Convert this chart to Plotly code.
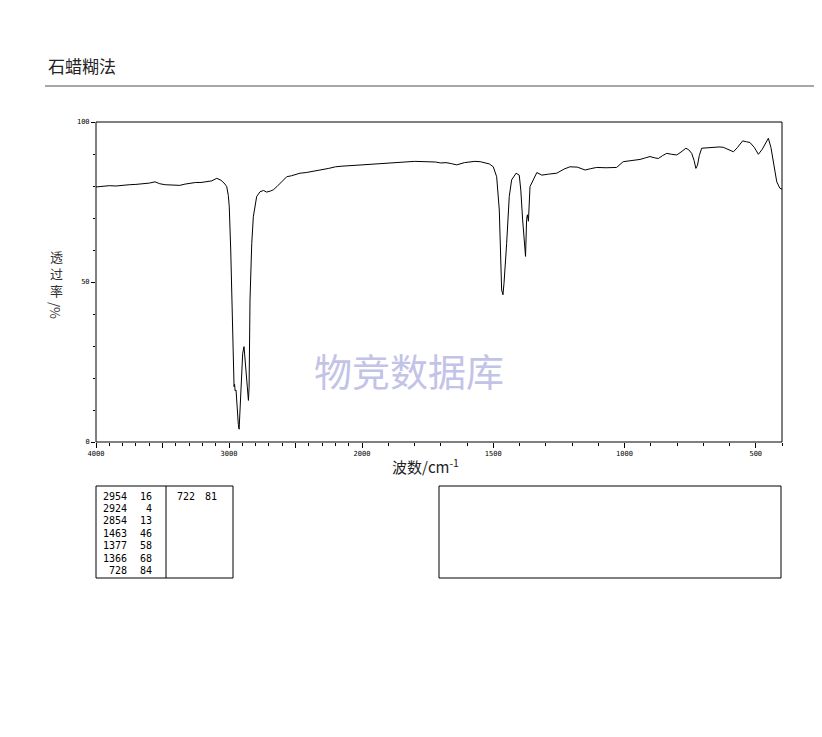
import plotly.graph_objects as go

# ---- data ----
wavenumber = [4000, 3950, 3900, 3850, 3800, 3750, 3700, 3650, 3600, 3556, 3520, 3480, 3440, 3400,
              3370, 3330, 3290, 3250, 3210, 3170, 3130, 3092, 3060, 3030, 3017, 3005, 2998, 2987,
              2980, 2972, 2962, 2958, 2954, 2947, 2938, 2930, 2924, 2917, 2907, 2897, 2887, 2877,
              2867, 2858, 2854, 2849, 2845, 2842, 2829, 2817, 2792, 2767, 2740, 2717, 2690, 2667,
              2640, 2610, 2580, 2566, 2530, 2500, 2466, 2420, 2380, 2316, 2250, 2200, 2150, 2100,
              2050, 2000,
              1950, 1900, 1855, 1800, 1760, 1720, 1700, 1680, 1660, 1639, 1610, 1589, 1570, 1550,
              1530, 1515, 1500, 1487, 1477, 1472, 1468, 1463, 1459, 1449, 1439, 1430, 1413, 1401,
              1395, 1388, 1382, 1377, 1373, 1370, 1366, 1360, 1334, 1315, 1290, 1258, 1230, 1208,
              1180, 1150, 1130, 1106, 1070, 1050, 1030, 1005, 970, 941, 920, 903, 885, 871, 855,
              839, 820, 801, 785, 766, 755, 744, 735, 728, 722, 715, 706, 690, 662, 640, 624, 605,
              585, 570, 550, 535, 522, 505, 490, 475, 460, 452, 442, 433, 420, 408, 400]
transmittance = [79.7, 79.9, 80.1, 80.0, 80.3, 80.4, 80.5, 80.6, 80.9, 81.3, 80.7, 80.4, 80.4, 80.3,
                 80.2, 80.6, 80.9, 81.1, 81.1, 81.4, 81.6, 82.4, 81.8, 80.6, 79.8, 77.0, 73.5, 60.0,
                 45.4, 27.8, 17.3, 18.0, 16.0, 16.2, 9.0, 5.5, 4.0, 10.0, 20.4, 27.7, 29.8, 24.7,
                 18.4, 15.0, 13.0, 17.0, 30.0, 44.4, 62.0, 70.4, 76.7, 78.2, 78.6, 78.1, 78.4, 78.8,
                 79.8, 81.0, 82.3, 82.9, 83.2, 83.6, 84.0, 84.2, 84.6, 85.0, 85.5, 86.0, 86.2, 86.3,
                 86.4, 86.6,
                 86.9, 87.2, 87.4, 87.7, 87.6, 87.5, 87.2, 87.3, 87.0, 86.6, 87.3, 87.6, 87.7, 87.6,
                 87.2, 86.9, 86.0, 82.9, 72.5, 56.9, 47.5, 46.0, 49.6, 62.0, 76.7, 81.9, 84.0, 83.4,
                 78.7, 69.4, 62.0, 58.0, 69.5, 71.0, 69.0, 79.8, 84.2, 83.4, 83.7, 84.0, 85.3, 86.0,
                 85.9, 85.0, 85.4, 85.8, 85.7, 85.8, 85.8, 87.6, 87.9, 88.3, 88.8, 89.2, 88.8, 88.6, 89.5,
                 90.2, 89.9, 89.7, 90.6, 91.8, 91.3, 90.2, 88.0, 85.5, 86.5, 89.5, 91.8, 91.9, 92.1, 92.2,
                 92.1, 91.3, 90.7, 92.0, 94.1, 93.8, 93.6, 92.0, 89.9, 91.5, 94.0, 94.9, 92.0, 88.1,
                 81.3, 79.3, 79.0]

peak_wn = [2954, 2924, 2854, 1463, 1377, 1366, 728, 722]
peak_t = [16, 4, 13, 46, 58, 68, 84, 81]

x_ticks_left = [4000, 3000]
x_ticktext_left = ["4000", "3000"]
x_ticks_mid = [3500, 2500]
x_ticks_right = [2000, 1500, 1000, 500]
x_ticktext_right = ["2000", "1500", "1000", "500"]
y_ticks = [0, 50, 100]
y_ticktext = ["0", "50", "100"]

title_text = "石蜡糊法"
xlabel = "波数/cm<sup>-1</sup>"
ylabel_chars = "透<br>过<br>率"
ylabel_unit = "/%"
watermark = "物竞数据库"

# ---- geometry (reference pixels; page has an 8px body margin) ----
OFF = 8
W, H = 822 - OFF, 737 - OFF
L, R, T, B = 96, 782, 122, 442
PW, PH = R - L, B - T
split = (362 - L) / PW


def px(x):
    return (x - L) / PW


def py(y):
    return (B - y) / PH


left_x = [w for w in wavenumber if w >= 2000]
left_y = [t for w, t in zip(wavenumber, transmittance) if w >= 2000]
right_x = [w for w in wavenumber if w <= 2000]
right_y = [t for w, t in zip(wavenumber, transmittance) if w <= 2000]

line = dict(color="black", width=1)
fig = go.Figure()
fig.add_trace(go.Scatter(x=left_x, y=left_y, mode="lines", line=line, xaxis="x", yaxis="y",
                         showlegend=False, hoverinfo="skip"))
fig.add_trace(go.Scatter(x=right_x, y=right_y, mode="lines", line=line, xaxis="x2", yaxis="y",
                         showlegend=False, hoverinfo="skip"))

tickfont = dict(family="DejaVu Sans Mono", size=7, color="black")
minor_x = dict(ticks="outside", ticklen=3, tickcolor="black", tickmode="linear", tick0=0, dtick=100)

fig.update_layout(
    width=W, height=H,
    margin=dict(l=L - OFF, r=W - (R - OFF), t=T - OFF, b=H - (B - OFF)),
    paper_bgcolor="white", plot_bgcolor="white",
    xaxis=dict(domain=[0, split], range=[4000, 2000], tickmode="array", tickvals=x_ticks_left,
               ticktext=x_ticktext_left, ticks="outside", ticklen=5, tickcolor="black",
               showgrid=False, zeroline=False, showline=False, tickfont=tickfont,
               minor=minor_x, anchor="y"),
    xaxis3=dict(domain=[0, split], range=[4000, 2000], tickmode="array", tickvals=x_ticks_mid,
                ticks="outside", ticklen=5, tickcolor="black", showticklabels=False,
                showgrid=False, zeroline=False, showline=False, overlaying="x", anchor="y"),
    xaxis2=dict(domain=[split, 1], range=[2000, 400], tickmode="array", tickvals=x_ticks_right,
                ticktext=x_ticktext_right, ticks="outside", ticklen=5, tickcolor="black",
                showgrid=False, zeroline=False, showline=False, tickfont=tickfont,
                minor=minor_x, anchor="y"),
    yaxis=dict(range=[0, 100], tickmode="array", tickvals=y_ticks, ticktext=y_ticktext,
               ticks="outside", ticklen=4, tickcolor="black", showgrid=False, zeroline=False,
               showline=False, tickfont=tickfont, anchor="x",
               minor=dict(ticks="outside", ticklen=2, tickcolor="black", tickmode="linear",
                          tick0=0, dtick=10)),
)
fig.add_trace(go.Scatter(x=[], y=[], xaxis="x3", yaxis="y", showlegend=False, hoverinfo="skip"))

shapes = []
shapes.append(dict(type="rect", xref="paper", yref="paper", x0=0, x1=1, y0=0, y1=1,
                   line=dict(color="black", width=1)))
shapes.append(dict(type="line", xref="paper", yref="paper", x0=px(45), x1=px(822),
                   y0=py(86), y1=py(86), line=dict(color="#8a8a8a", width=1.5)))
shapes.append(dict(type="rect", xref="paper", yref="paper", x0=px(96), x1=px(233),
                   y0=py(578), y1=py(486), line=dict(color="black", width=1)))
shapes.append(dict(type="line", xref="paper", yref="paper", x0=px(166), x1=px(166),
                   y0=py(578), y1=py(486), line=dict(color="black", width=1)))
shapes.append(dict(type="rect", xref="paper", yref="paper", x0=px(439), x1=px(781),
                   y0=py(578), y1=py(486), line=dict(color="black", width=1)))
fig.update_layout(shapes=shapes)

ann = []
cjk = "Noto Sans CJK SC"
ann.append(dict(text=title_text, xref="paper", yref="paper", x=px(46), y=py(66),
                xanchor="left", yanchor="middle", showarrow=False,
                font=dict(family=cjk, size=17, color="#222")))
ann.append(dict(text=xlabel, xref="paper", yref="paper", x=px(425), y=py(466),
                xanchor="center", yanchor="middle", showarrow=False,
                font=dict(family=cjk, size=15, color="#222")))
ann.append(dict(text=ylabel_chars, xref="paper", yref="paper", x=px(56), y=py(273),
                xanchor="center", yanchor="middle", showarrow=False, borderpad=0,
                font=dict(family=cjk, size=13, color="#333")))
ann.append(dict(text=ylabel_unit, xref="paper", yref="paper", x=px(56), y=py(310),
                xanchor="center", yanchor="middle", showarrow=False, textangle=90, borderpad=0,
                font=dict(family=cjk, size=13, color="#333")))
ann.append(dict(text=watermark, xref="paper", yref="paper", x=px(409), y=py(369),
                xanchor="center", yanchor="middle", showarrow=False,
                font=dict(family=cjk, size=38, color="#c3c3e8")))

tfont = dict(family="DejaVu Sans Mono", size=10, color="black")
for i, (w, t) in enumerate(zip(peak_wn, peak_t)):
    col = i // 7
    row = i % 7
    yy = py(496 + row * 12.4)
    xw = 129 if col == 0 else 197
    xt = 154 if col == 0 else 219
    ann.append(dict(text=str(w), xref="paper", yref="paper", x=px(xw), y=yy,
                    xanchor="right", yanchor="middle", showarrow=False, font=tfont))
    ann.append(dict(text=str(t), xref="paper", yref="paper", x=px(xt), y=yy,
                    xanchor="right", yanchor="middle", showarrow=False, font=tfont))
fig.update_layout(annotations=ann)

fig.write_html("out.html")
